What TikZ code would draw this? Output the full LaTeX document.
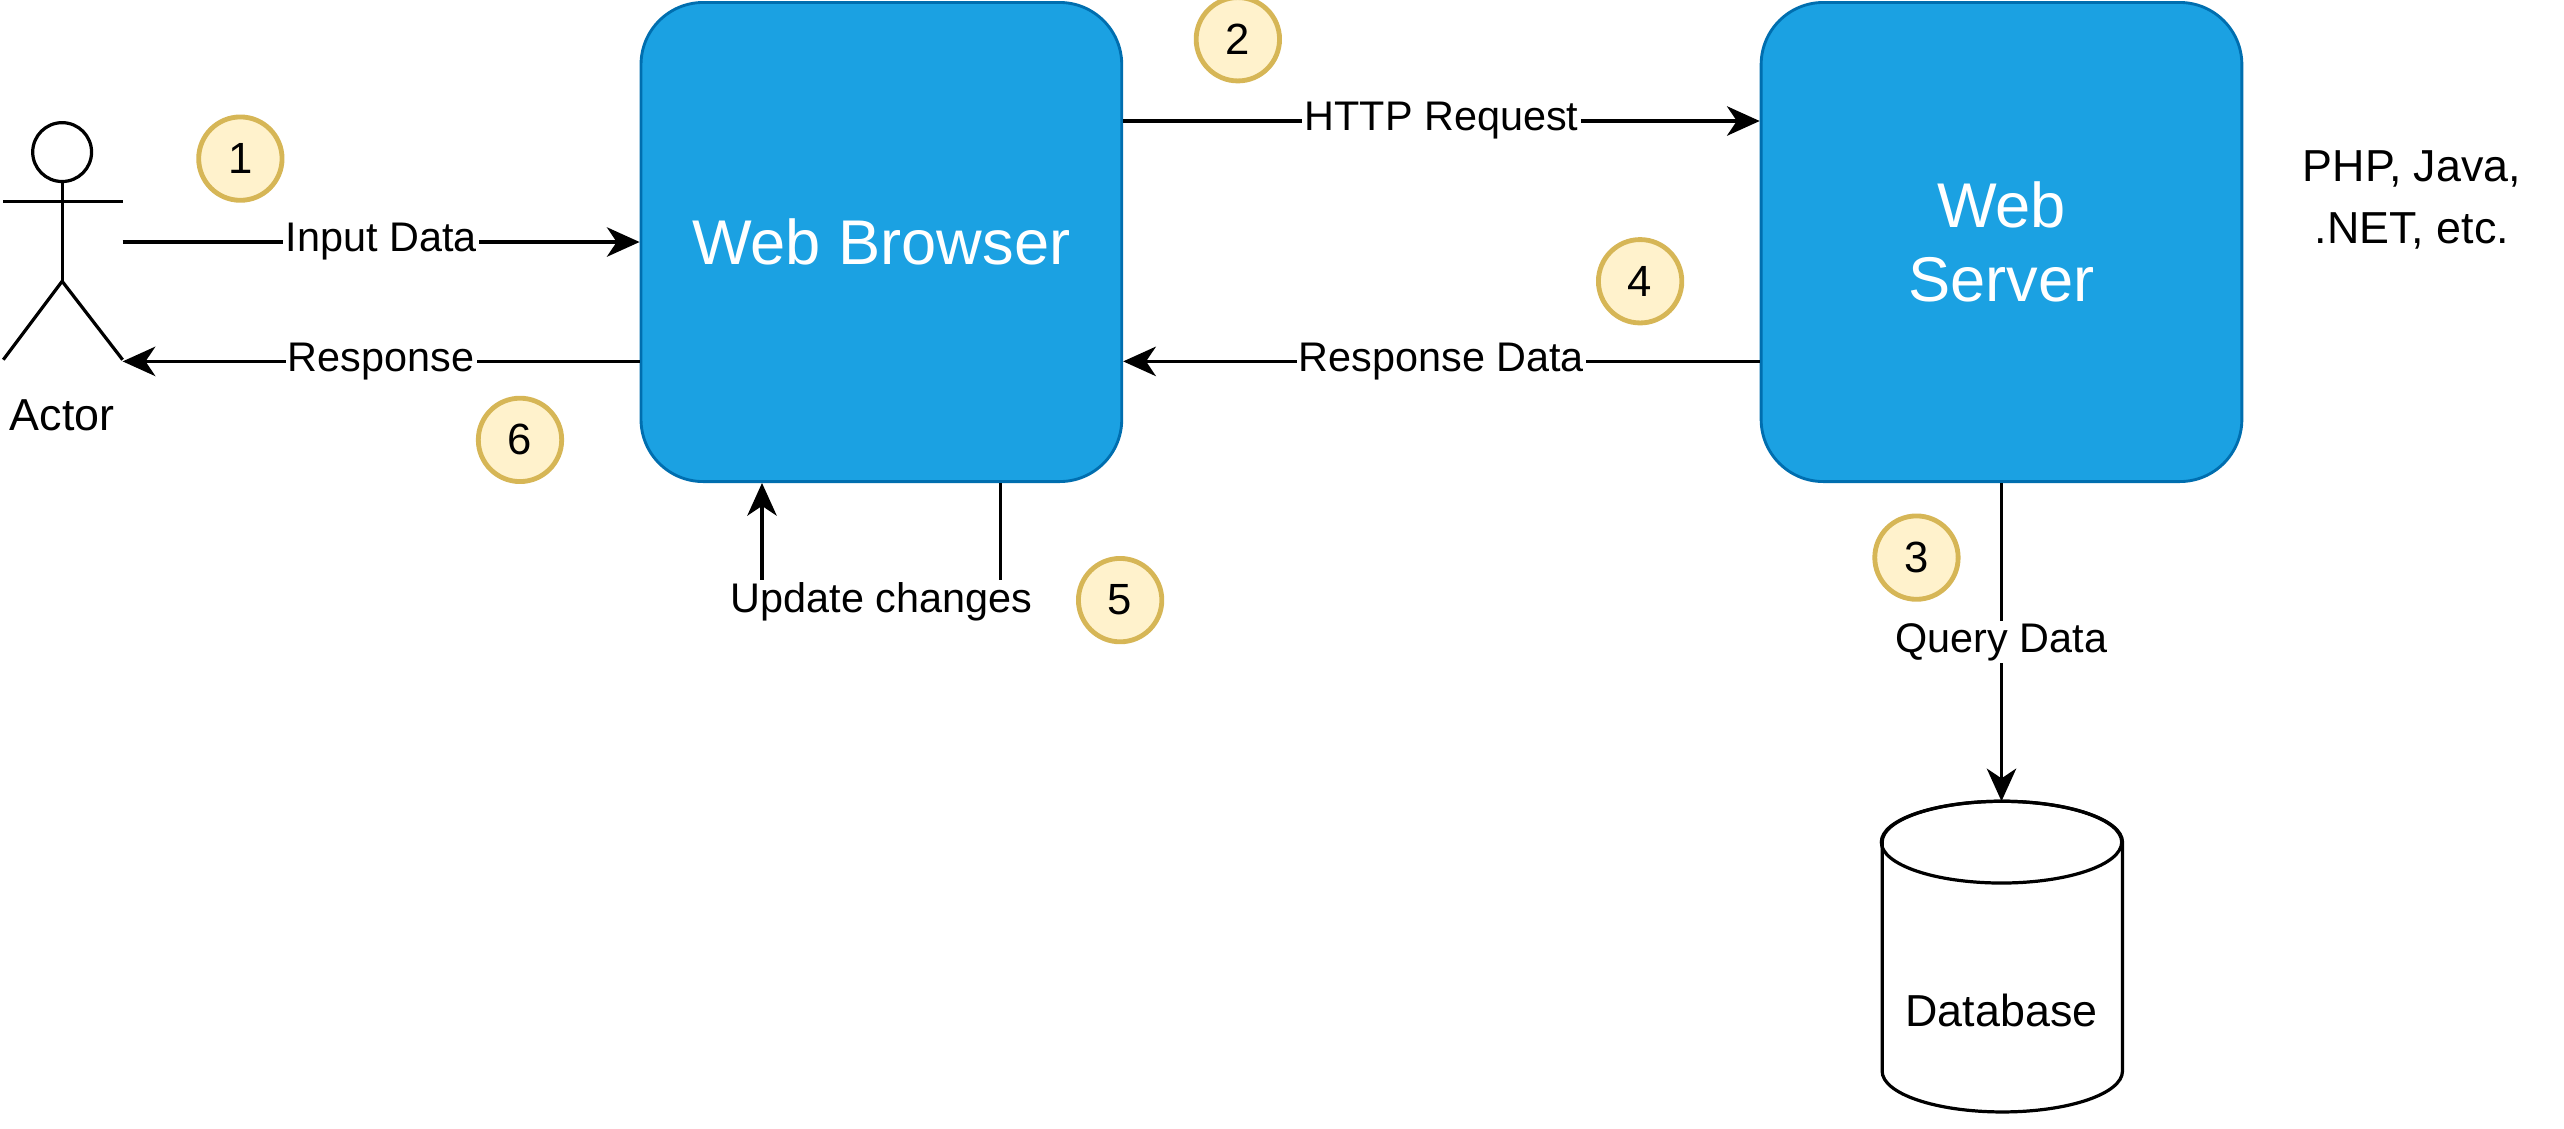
\documentclass[tikz,border=0pt]{standalone}
\usepackage{fontspec}
\setmainfont{Liberation Sans}
\usetikzlibrary{shapes.geometric, arrows.meta, positioning}
\definecolor{boxfill}{HTML}{1BA1E2}
\definecolor{boxline}{HTML}{006EAF}
\definecolor{stepfill}{HTML}{FFF2CC}
\definecolor{stepline}{HTML}{D6B656}
\tikzset{
  box/.style={draw=boxline, fill=boxfill, line width=2.5pt, rounded corners=1.9cm,
    minimum width=14.7cm, minimum height=14.65cm, text=white, align=center,
    font=\fontsize{55}{64}\selectfont},
  stepnum/.style={circle, draw=stepline, fill=stepfill, line width=4.2pt,
    minimum size=2.55cm, inner sep=0pt, font=\fontsize{38}{44}\selectfont},
  flow/.style={line width=2.8pt, -{Stealth[length=1cm,width=0.9cm,inset=0.3cm]}},
  lbl/.style={fill=white, inner sep=2pt, font=\fontsize{36}{42}\selectfont},
  plain/.style={font=\fontsize{39}{54}\selectfont, align=center}
}
\begin{document}
\begin{tikzpicture}[x=0.05cm, y=-0.05cm]
\useasboundingbox (0,0) rectangle (1568,690);

% actor
\begin{scope}[line width=2.8pt]
\draw (38,93) circle (0.9cm);
\draw (38,111) -- (38,172);
\draw (2,123) -- (75,123);
\draw (2,220) -- (38,172) -- (75,220);
\end{scope}
\node[plain] (actor) at (38,254) {Actor};
\coordinate (actorin) at (75,148);
\coordinate (actorout) at (75,221);

% boxes
\node[box] (browser) at (539,148) {Web Browser};
\node[box] (server) at (1224,148) {Web\\Server};
\node[plain] (tech) at (1475,122) {PHP, Java,\\.NET, etc.};

% database
\draw[line width=2.8pt, fill=white] (1151,515) -- (1151,655)
  arc[start angle=180, end angle=360, x radius=3.675cm, y radius=1.25cm]
  -- (1298,515)
  arc[start angle=0, end angle=180, x radius=3.675cm, y radius=1.25cm];
\draw[line width=2.8pt] (1224,515) ellipse [x radius=3.675cm, y radius=1.25cm];
\node[plain] (db) at (1224,618) {Database};
\coordinate (dbtop) at (1224,490);

% connectors
\draw[flow] (actorin) -- node[lbl] {Input Data} (browser.west |- actorin);
\draw[flow] (browser.west |- actorout) -- node[lbl] {Response} (actorout);
\draw[flow] (browser.east |- 0,74) -- node[lbl] {HTTP Request} (server.west |- 0,74);
\draw[flow] (server.west |- 0,221) -- node[lbl] {Response Data} (browser.east |- 0,221);
\draw[flow] (server.south) -- node[lbl, pos=0.5] {Query Data} (dbtop);
\draw[flow] (browser.south -| 612,0) -- (612,368) -- node[lbl] {Update changes} (466,368)
  -- (browser.south -| 466,0);

% steps
\node[stepnum] (s1) at (147,97) {1};
\node[stepnum] (s2) at (757,24) {2};
\node[stepnum] (s3) at (1172,341) {3};
\node[stepnum] (s4) at (1003,172) {4};
\node[stepnum] (s5) at (685,367) {5};
\node[stepnum] (s6) at (318,269) {6};
\end{tikzpicture}
\end{document}
